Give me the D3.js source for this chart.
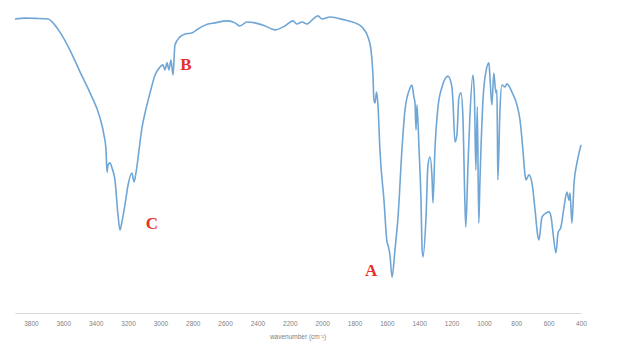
<!DOCTYPE html>
<html><head><meta charset="utf-8">
<script src="https://cdn.jsdelivr.net/npm/d3@7"></script>
<style>body{margin:0;background:#fff}svg{display:block}</style>
</head><body>
<svg id="c" width="624" height="350"></svg>
<script>
const wavenumber = [3899,3837,3775,3695,3652,3621,3559,3497,3435,3373,3349,3336,3330,3324,3312,3299,3281,3262,3250,3238,3219,3200,3176,3163,3151,3132,3114,3095,3064,3033,3003,2984,2972,2959,2947,2935,2922,2910,2879,2848,2805,2768,2724,2663,2582,2539,2508,2465,2415,2353,2292,2230,2180,2156,2125,2094,2063,2026,2001,1952,1859,1797,1754,1717,1698,1686,1680,1673,1664,1655,1643,1618,1599,1593,1581,1568,1550,1531,1507,1488,1457,1445,1432,1426,1420,1414,1401,1389,1383,1377,1358,1346,1334,1321,1315,1303,1284,1259,1222,1198,1192,1179,1167,1155,1142,1130,1118,1112,1099,1087,1068,1059,1050,1041,1032,1025,1006,988,969,963,951,939,926,920,917,914,901,889,870,858,827,796,777,759,746,740,722,703,684,666,660,641,616,598,585,573,555,542,524,505,487,474,468,456,443,425,400];
const transmittance = [96.8,97.1,97.0,96.8,94.6,92.1,85.7,77.9,70.4,61.4,55.4,50,42.1,44.6,45.4,43.6,39.3,26.8,21.4,24.3,30.4,37.5,41.8,38.6,41.8,50,57.9,63.2,70.4,76.8,79.6,80.4,78.6,81.1,78.6,82.1,76.8,87.5,90.4,91.4,91.8,93.2,94.6,95.4,96.1,95.4,94.3,95.7,95.4,94.3,92.9,94.3,96.1,95.0,95.7,95.0,96.4,97.9,96.8,97.5,96.4,95.4,93.9,90.4,85.7,76.8,67.9,66.8,70.7,66.1,50,32.1,17.1,16.1,12.5,4.6,14.3,26.1,50,64.3,72.1,73.2,68.6,66.8,57.1,66.1,50,32.1,16.1,11.8,26.1,44.6,47.5,40.4,31.1,50,65.4,72.5,76.4,72.5,67.9,52.9,55.4,68.6,70.4,61.8,32.1,22.5,43.9,61.8,76.8,69.6,42.9,65.4,23.9,38.2,67.9,77.9,81.1,76.1,66.1,77.5,70.4,71.4,57.1,39.3,64.3,73.2,72.5,73.6,70.7,66.1,60.7,50,41.1,39.3,41.1,38.2,28.6,18.9,17.9,26.1,27.5,27.9,26.1,20.4,13.2,20.4,22.5,29.6,35,32.1,34.6,23.9,38.2,45.4,51.8];
const tickValues = [3800,3600,3400,3200,3000,2800,2600,2400,2200,2000,1800,1600,1400,1200,1000,800,600,400];
const peakLabels = ["A","B","C"];
const peakWavenumbers = [1698,2842,3052];
const peakTransmittance = [5.0,78.6,21.8];
const axisTitle = "wavenumber (cm\u207B\u00B9)";

const svg = d3.select("#c");
const x = d3.scaleLinear().domain([3900,400]).range([14.8,581]);
const y = d3.scaleLinear().domain([0,100]).range([290,10]);

const axisG = svg.append("g").attr("transform","translate(0,313)")
  .call(d3.axisBottom(x).tickValues(tickValues).tickSize(0).tickPadding(8).tickFormat(d3.format("d")));
axisG.select(".domain").attr("stroke","#d9d9d9").attr("stroke-width",1.2);
axisG.selectAll("text").attr("fill","#7f7f7f").attr("font-family","Liberation Sans, Arial, sans-serif").attr("font-size",6.5);

svg.append("text").attr("x",298).attr("y",339).attr("text-anchor","middle")
  .attr("fill","#7f7f7f").attr("font-family","Liberation Sans, Arial, sans-serif").attr("font-size",6.5).text(axisTitle);

const data = wavenumber.map((w,i)=>({w, t: transmittance[i]}));
svg.append("path").datum(data)
  .attr("fill","none").attr("stroke","#6fa6d6").attr("stroke-width",1.6).attr("stroke-linejoin","round")
  .attr("d", d3.line().x(d=>x(d.w)).y(d=>y(d.t)).curve(d3.curveMonotoneX));

svg.selectAll("text.peak").data(peakLabels).join("text").attr("class","peak")
  .attr("x",(d,i)=>x(peakWavenumbers[i])).attr("y",(d,i)=>y(peakTransmittance[i]))
  .attr("text-anchor","middle").attr("fill","#e8302a").attr("font-weight","bold")
  .attr("font-family","Liberation Serif, Times New Roman, serif").attr("font-size",17).text(d=>d);
</script>
</body></html>
